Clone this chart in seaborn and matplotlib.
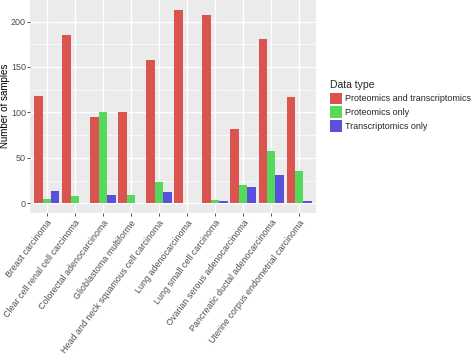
import pandas as pd
import seaborn as sns
import matplotlib.pyplot as plt
from matplotlib.ticker import MultipleLocator
from matplotlib.patches import Patch

# values
cancer_types = [
    'Breast carcinoma',
    'Clear cell renal cell carcinoma',
    'Colorectal adenocarcinoma',
    'Glioblastoma multiforme',
    'Head and neck squamous cell carcinoma',
    'Lung adenocarcinoma',
    'Lung small cell carcinoma',
    'Ovarian serous adenocarcinoma',
    'Pancreatic ductal adenocarcinoma',
    'Uterine corpus endometrial carcinoma',
]
prot_and_trans = [118, 185, 95, 100, 158, 213, 207, 82, 181, 117]
prot_only = [5, 8, 100, 9, 23, 0, 4, 20, 57, 35]
trans_only = [13, 0, 9, 0, 12, 0, 3, 18, 31, 2]

data_types = ['Proteomics and transcriptomics', 'Proteomics only', 'Transcriptomics only']
colors = ['#D9544F', '#55D95A', '#5A50DC']


def main():
    rows = []
    for series, name in zip([prot_and_trans, prot_only, trans_only], data_types):
        for cancer, value in zip(cancer_types, series):
            rows.append({'cancer': cancer, 'data_type': name, 'samples': value})
    df = pd.DataFrame(rows)

    sns.set_theme(style='darkgrid')
    plt.rcParams['font.family'] = ['Liberation Sans', 'DejaVu Sans']

    fig = plt.figure(figsize=(4.74, 3.58), dpi=100)
    ax = fig.add_axes([30 / 474, 1 - 213 / 358, 286 / 474, 213 / 358])

    sns.barplot(data=df, x='cancer', y='samples', hue='data_type',
                order=cancer_types, hue_order=data_types,
                palette=colors, width=0.9, gap=0, saturation=1,
                linewidth=0, legend=False, ax=ax)

    # ggplot-like panel
    ax.set_facecolor('#EBEBEB')
    ax.set_xlim(-0.6, len(cancer_types) - 0.4)
    ax.set_ylim(-10.65, 223.65)
    ax.yaxis.set_major_locator(MultipleLocator(50))
    ax.yaxis.set_minor_locator(MultipleLocator(25))
    ax.grid(which='major', color='white', linewidth=1.0)
    ax.grid(which='minor', axis='y', color='white', linewidth=0.5)
    ax.set_axisbelow(True)
    for spine in ax.spines.values():
        spine.set_visible(False)

    ax.tick_params(axis='both', which='major', length=2.2, width=0.6, color='#333333',
                   labelsize=6.4, labelcolor='#4D4D4D', pad=1.5, bottom=True, left=True)
    ax.tick_params(axis='y', which='major', labelsize=6.5, pad=0.8)
    ax.tick_params(axis='y', which='minor', length=0)
    ax.set_xticks(range(len(cancer_types)))
    ax.set_xticklabels(cancer_types, rotation=53, ha='right', rotation_mode='anchor')
    ax.set_xlabel('')
    ax.set_ylabel('')
    fig.text(5 / 474, 1 - 106 / 358, 'Number of samples', rotation=90,
             ha='center', va='center', fontsize=7, color='black')

    handles = [Patch(facecolor=c, edgecolor='none') for c in colors]
    leg = fig.legend(handles, data_types, title='Data type', loc='upper left',
                     bbox_to_anchor=(330 / 474, 1 - 80 / 358), frameon=False,
                     fontsize=6.5, title_fontsize=7.5, handlelength=1.35,
                     handleheight=1.55, handletextpad=0.3, labelspacing=0.28,
                     borderaxespad=0, borderpad=0)
    leg._legend_box.align = 'left'

    fig.savefig('out.png', dpi=100)


if __name__ == '__main__':
    main()
